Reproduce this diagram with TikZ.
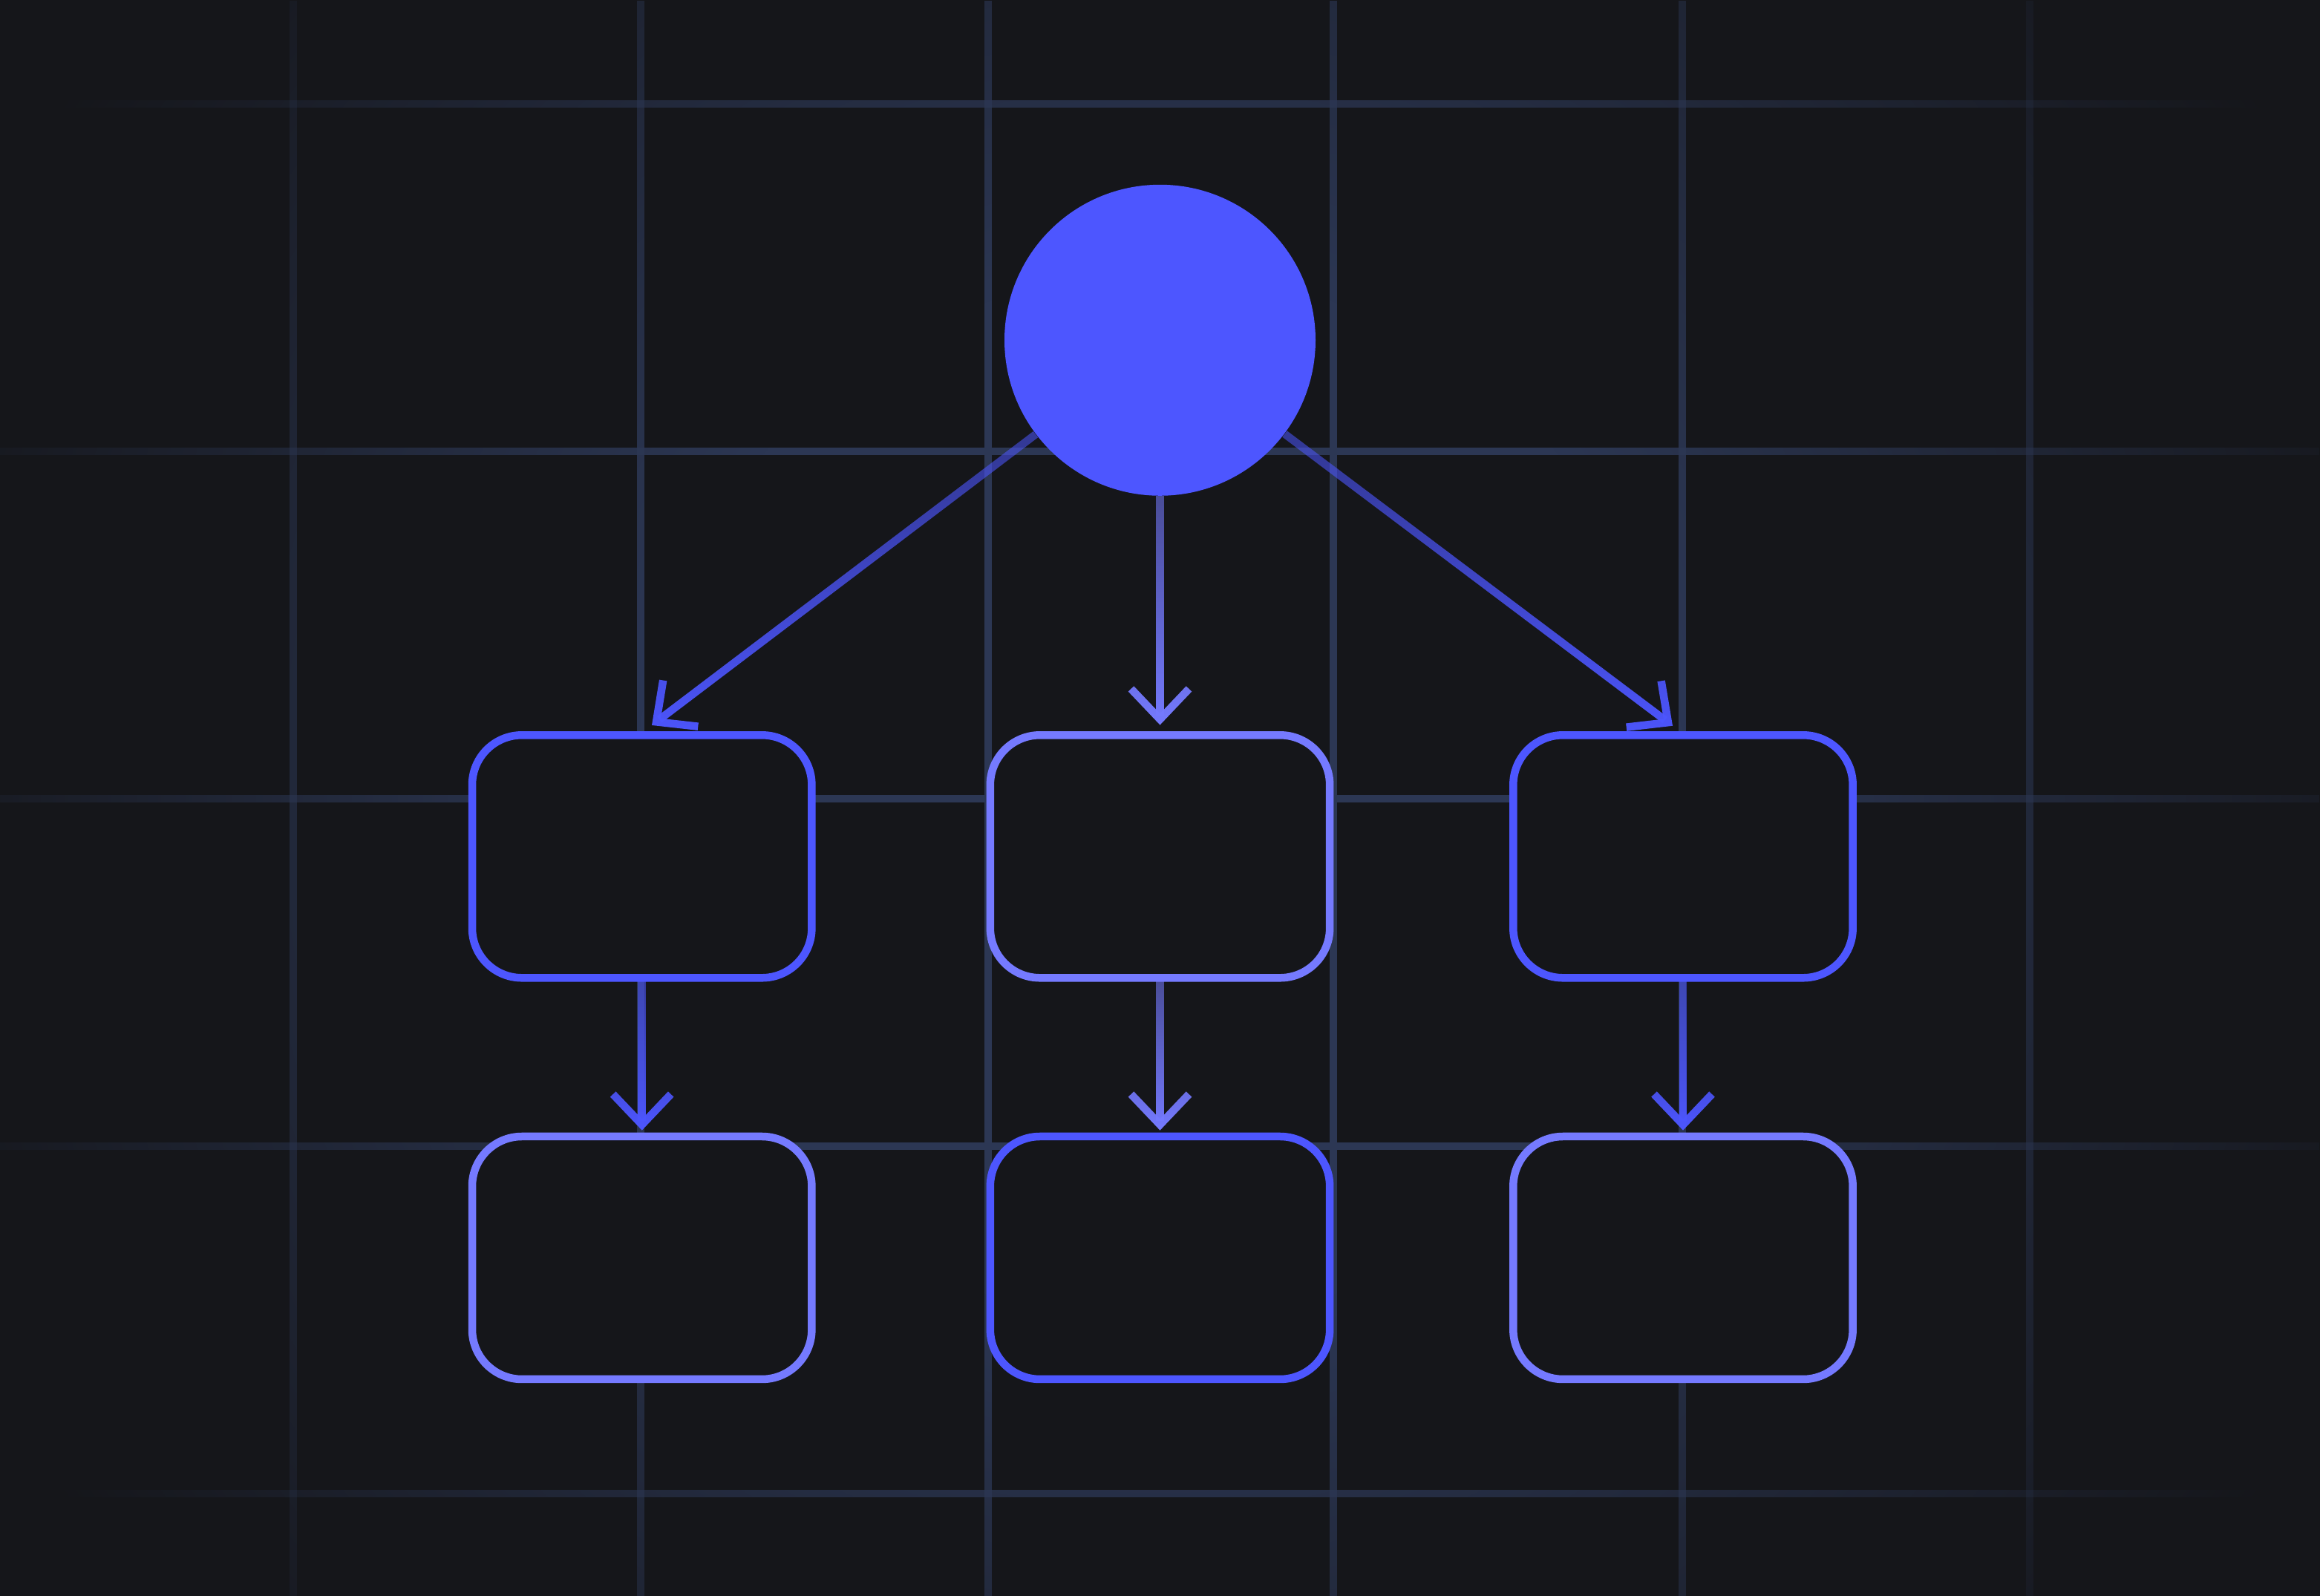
\documentclass[tikz,border=0pt]{standalone}
\usepackage{tikz}
\usetikzlibrary{positioning,arrows.meta,fadings,calc}
\definecolor{bgdark}{RGB}{21,22,26}
\definecolor{gridline}{RGB}{44,55,84}
\definecolor{hubblue}{RGB}{77,86,255}
\definecolor{softblue}{RGB}{117,122,255}

\pgfdeclareradialshading{gridmask}{\pgfpointorigin}{color(0bp)=(white); color(10bp)=(white); color(25bp)=(black); color(50bp)=(black)}
\pgfdeclarefading{gridfade}{\pgfuseshading{gridmask}}
\tikzfading[name=linkfade, top color=transparent!45, bottom color=transparent!0]

\begin{document}
\begin{tikzpicture}[
    hub/.style={circle, fill=hubblue, minimum size=4.19cm, inner sep=0pt},
    card/.style={rectangle, rounded corners=0.67cm, draw=#1, line width=1.05mm, fill=bgdark,
        minimum width=4.574cm, minimum height=3.27cm, inner sep=0pt, outer sep=0pt},
    link/.style={line width=1.05mm, -{Straight Barb[length=4.1mm, width=7.8mm, sharp]},
        path fading=linkfade, fit fading=false},
    gridrule/.style={gridline, line width=1mm, path fading=gridfade, fit fading=false,
        fading transform={shift={(15.63,10.75)}, xscale=20, yscale=20}}
]

% BACKGROUND
\fill[bgdark] (0,0) rectangle (31.25,21.5);
\useasboundingbox (0,0) rectangle (31.25,21.5);

% GRID
\foreach \gx in {3.96,8.64,13.32,17.97,22.67,27.35}
    \draw[gridrule] (\gx,0) -- (\gx,21.5);
\foreach \gy in {1.39,6.07,10.75,15.43,20.11}
    \draw[gridrule] (0,\gy) -- (31.25,\gy);

% ROOT
\node[hub] (root) at (15.625, 16.917) {};

% FIRST ROW
\node[card=hubblue] (b1) at (8.647, 9.962) {};
\node[card=softblue] (b2) at (15.625, 9.962) {};
\node[card=hubblue] (b3) at (22.67, 9.962) {};

% SECOND ROW
\node[card=softblue, below=2.137cm of b1] (c1) {};
\node[card=hubblue, below=2.137cm of b2] (c2) {};
\node[card=softblue, below=2.137cm of b3] (c3) {};

% Root to first row
\coordinate (tipl) at ([xshift=1.33mm, yshift=1.33mm]b1.north);
\coordinate (tipr) at ([xshift=-1.4mm, yshift=1.25mm]b3.north);
\draw[link, hubblue, fading transform={shift={(11.37,13.45)}, xscale=2, yscale=2.23}] (root) -- (tipl);
\draw[link, softblue, shorten >=1.37mm, fading transform={shift={(15.63,13.28)}, yscale=1.75}] (root) -- (b2);
\draw[link, hubblue, fading transform={shift={(19.88,13.45)}, xscale=2, yscale=2.23}] (root) -- (tipr);

% First row to second row
\draw[link, hubblue, shorten >=0.83mm, fading transform={shift={(8.65,7.30)}, yscale=1.17}] (b1) -- (c1);
\draw[link, softblue, shorten >=0.83mm, fading transform={shift={(15.63,7.30)}, yscale=1.17}] (b2) -- (c2);
\draw[link, hubblue, shorten >=0.83mm, fading transform={shift={(22.67,7.30)}, yscale=1.17}] (b3) -- (c3);

\end{tikzpicture}
\end{document}
